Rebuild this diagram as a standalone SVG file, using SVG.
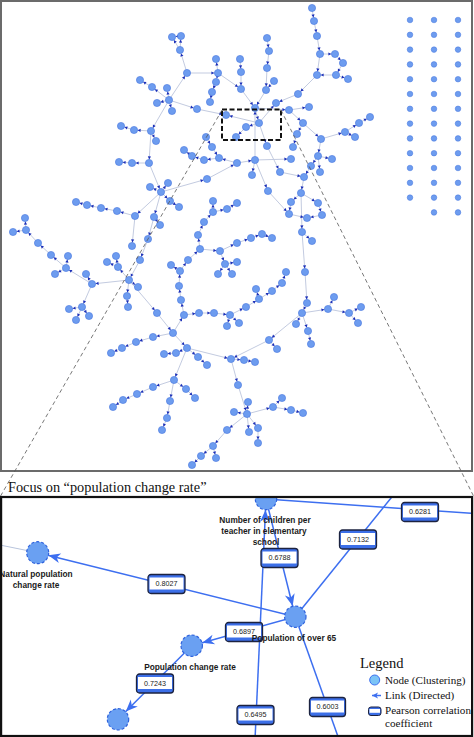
<svg xmlns="http://www.w3.org/2000/svg" width="474" height="737" viewBox="0 0 474 737">
<defs>
<style>
.e line{stroke:#c3cbe0;stroke-width:1;marker-end:url(#a)}
.n circle{fill:#6d9cef;stroke:#4676df;stroke-width:.6}
.gd circle{fill:#6d9cef;stroke:#4676df;stroke-width:.5}
.fe line{stroke:#3d6ff0;stroke-width:1.5;marker-end:url(#b)}
.fn{fill:#6aa0f2;stroke:#2f62dc;stroke-width:1.2;stroke-dasharray:3 2}
.lb{fill:#3c6fe8;stroke:#1c2340;stroke-width:1.3}
.lw{fill:#fff}
.lt{font-family:"Liberation Sans",Arial,sans-serif;font-size:7.2px;fill:#222;text-anchor:middle}
.nl{font-family:"Liberation Sans",Arial,sans-serif;font-size:8.3px;font-weight:bold;fill:#1a1a1a;text-anchor:middle}
.sf{font-family:"Liberation Serif","Times New Roman",serif;fill:#111}
.dl{stroke:#555;stroke-width:.8;stroke-dasharray:4 3;fill:none}
</style>
<marker id="a" markerUnits="userSpaceOnUse" viewBox="0 0 4 4" markerWidth="4" markerHeight="4" refX="6.6" refY="2" orient="auto" overflow="visible"><path d="M0,0.4 L3,2 L0,3.6 z" fill="#1b2fb8"/></marker>
<marker id="b" markerUnits="userSpaceOnUse" viewBox="0 0 24 10" markerWidth="24" markerHeight="10" refX="23" refY="5" orient="auto" overflow="visible"><path d="M0,0 L12,5 L0,10 L3.5,5 z" fill="#3d6ff0"/></marker>
<marker id="c" markerUnits="userSpaceOnUse" viewBox="0 0 6 6" markerWidth="6" markerHeight="6" refX="0" refY="3" orient="auto" overflow="visible"><path d="M6,0 L0,3 L6,6 L4.5,3 z" fill="#3d6ff0"/></marker>
<clipPath id="fc"><rect x="2" y="498" width="469" height="237"/></clipPath>
</defs>
<rect width="474" height="737" fill="#fff"/>
<rect x="1" y="1" width="471" height="470" fill="none" stroke="#6b6b6b" stroke-width="2"/>

<g id="connectors" class="e">
<line x1="180" y1="50" x2="172" y2="37"/><line x1="180" y1="50" x2="181" y2="36"/><line x1="181" y1="36" x2="172" y2="37"/>
<line x1="187" y1="73" x2="180" y2="50"/><line x1="187" y1="73" x2="218" y2="73"/><line x1="169" y1="100" x2="187" y2="73"/>
<line x1="218" y1="73" x2="216" y2="59"/><line x1="218" y1="73" x2="216" y2="82"/><line x1="216" y1="82" x2="212" y2="92"/><line x1="212" y1="92" x2="210" y2="102"/>
<line x1="218" y1="73" x2="241" y2="89"/><line x1="240" y1="59" x2="241" y2="72"/><line x1="241" y1="72" x2="241" y2="89"/><line x1="241" y1="89" x2="255" y2="108"/>
<line x1="152" y1="87" x2="140" y2="80"/><line x1="169" y1="100" x2="152" y2="87"/><line x1="169" y1="100" x2="167" y2="88"/><line x1="169" y1="100" x2="157" y2="103"/><line x1="169" y1="100" x2="172" y2="111"/><line x1="169" y1="100" x2="197" y2="109"/><line x1="197" y1="109" x2="226" y2="115"/>
<line x1="259" y1="123" x2="226" y2="115"/><line x1="259" y1="123" x2="246" y2="127"/><line x1="246" y1="127" x2="236" y2="137"/><line x1="255" y1="108" x2="259" y2="123"/><line x1="259" y1="123" x2="276" y2="103"/><line x1="259" y1="123" x2="267" y2="146"/><line x1="255" y1="160" x2="255" y2="108"/><line x1="255" y1="108" x2="289" y2="110"/>
<line x1="169" y1="100" x2="151" y2="131"/><line x1="151" y1="131" x2="134" y2="130"/><line x1="134" y1="130" x2="121" y2="126"/><line x1="151" y1="131" x2="156" y2="141"/><line x1="151" y1="131" x2="149" y2="163"/><line x1="149" y1="163" x2="132" y2="163"/><line x1="132" y1="163" x2="119" y2="162"/><line x1="149" y1="163" x2="161" y2="192"/>
<line x1="206" y1="137" x2="212" y2="147"/><line x1="212" y1="147" x2="219" y2="158"/><line x1="237" y1="163" x2="219" y2="158"/><line x1="219" y1="158" x2="204" y2="160"/><line x1="204" y1="160" x2="192" y2="156"/><line x1="192" y1="156" x2="184" y2="150"/>
<line x1="237" y1="163" x2="255" y2="160"/><line x1="207" y1="179" x2="237" y2="163"/><line x1="161" y1="192" x2="207" y2="179"/>
<line x1="161" y1="192" x2="150" y2="187"/><line x1="161" y1="192" x2="168" y2="183"/><line x1="161" y1="192" x2="170" y2="201"/><line x1="170" y1="201" x2="179" y2="207"/>
<line x1="161" y1="192" x2="135" y2="216"/><line x1="135" y1="216" x2="117" y2="211"/><line x1="117" y1="211" x2="101" y2="208"/><line x1="101" y1="208" x2="87" y2="205"/><line x1="87" y1="205" x2="76" y2="202"/>
<line x1="161" y1="192" x2="154" y2="217"/><line x1="154" y1="217" x2="160" y2="225"/><line x1="154" y1="217" x2="148" y2="239"/><line x1="135" y1="216" x2="132" y2="246"/><line x1="148" y1="239" x2="140" y2="260"/><line x1="140" y1="260" x2="129" y2="280"/>
<line x1="129" y1="280" x2="118" y2="267"/><line x1="118" y1="267" x2="116" y2="256"/><line x1="118" y1="267" x2="107" y2="262"/><line x1="129" y1="280" x2="138" y2="287"/><line x1="129" y1="280" x2="127" y2="296"/><line x1="127" y1="296" x2="128" y2="307"/>
<line x1="129" y1="280" x2="92" y2="284"/><line x1="92" y1="284" x2="86" y2="274"/><line x1="92" y1="284" x2="82" y2="307"/><line x1="82" y1="307" x2="69" y2="309"/><line x1="82" y1="307" x2="76" y2="320"/><line x1="82" y1="307" x2="89" y2="316"/>
<line x1="92" y1="284" x2="66" y2="268"/><line x1="66" y1="268" x2="68" y2="256"/><line x1="66" y1="268" x2="55" y2="274"/><line x1="66" y1="268" x2="51" y2="255"/><line x1="51" y1="255" x2="38" y2="243"/><line x1="38" y1="243" x2="26" y2="230"/><line x1="26" y1="230" x2="25" y2="218"/><line x1="26" y1="230" x2="13" y2="232"/>
<line x1="129" y1="280" x2="157" y2="313"/><line x1="157" y1="313" x2="173" y2="333"/><line x1="173" y1="333" x2="153" y2="337"/><line x1="153" y1="337" x2="136" y2="342"/><line x1="136" y1="342" x2="122" y2="348"/><line x1="122" y1="348" x2="111" y2="353"/>
<line x1="173" y1="333" x2="184" y2="315"/><line x1="184" y1="315" x2="181" y2="300"/><line x1="181" y1="300" x2="179" y2="286"/><line x1="179" y1="286" x2="180" y2="271"/><line x1="180" y1="271" x2="171" y2="265"/><line x1="180" y1="271" x2="188" y2="260"/><line x1="188" y1="260" x2="200" y2="249"/>
<line x1="200" y1="249" x2="198" y2="235"/><line x1="198" y1="235" x2="204" y2="222"/><line x1="204" y1="222" x2="213" y2="212"/><line x1="213" y1="212" x2="213" y2="201"/><line x1="213" y1="212" x2="227" y2="209"/><line x1="227" y1="209" x2="237" y2="203"/>
<line x1="200" y1="249" x2="220" y2="251"/><line x1="220" y1="251" x2="225" y2="264"/><line x1="225" y1="264" x2="237" y2="262"/><line x1="225" y1="264" x2="218" y2="274"/><line x1="225" y1="264" x2="232" y2="274"/>
<line x1="220" y1="251" x2="237" y2="243"/><line x1="237" y1="243" x2="251" y2="238"/><line x1="251" y1="238" x2="262" y2="234"/><line x1="262" y1="234" x2="272" y2="238"/>
<line x1="184" y1="315" x2="199" y2="313"/><line x1="199" y1="313" x2="214" y2="313"/><line x1="214" y1="313" x2="230" y2="315"/><line x1="230" y1="315" x2="227" y2="326"/><line x1="230" y1="315" x2="239" y2="323"/><line x1="230" y1="315" x2="246" y2="307"/><line x1="246" y1="307" x2="259" y2="299"/><line x1="259" y1="299" x2="256" y2="289"/><line x1="259" y1="299" x2="272" y2="291"/><line x1="272" y1="291" x2="282" y2="283"/><line x1="282" y1="283" x2="286" y2="272"/>
<line x1="173" y1="333" x2="187" y2="348"/><line x1="187" y1="348" x2="176" y2="353"/><line x1="176" y1="353" x2="164" y2="354"/><line x1="187" y1="348" x2="198" y2="357"/><line x1="198" y1="357" x2="207" y2="365"/>
<line x1="187" y1="348" x2="231" y2="359"/><line x1="231" y1="359" x2="244" y2="360"/><line x1="244" y1="360" x2="255" y2="362"/>
<line x1="187" y1="348" x2="174" y2="380"/><line x1="174" y1="380" x2="153" y2="387"/><line x1="153" y1="387" x2="137" y2="394"/><line x1="137" y1="394" x2="123" y2="400"/><line x1="123" y1="400" x2="113" y2="407"/><line x1="174" y1="380" x2="186" y2="389"/><line x1="186" y1="389" x2="195" y2="398"/><line x1="174" y1="380" x2="170" y2="401"/><line x1="170" y1="401" x2="167" y2="418"/><line x1="167" y1="418" x2="162" y2="430"/>
<line x1="231" y1="359" x2="238" y2="385"/><line x1="238" y1="385" x2="247" y2="414"/><line x1="247" y1="414" x2="248" y2="402"/><line x1="247" y1="414" x2="234" y2="412"/><line x1="247" y1="414" x2="273" y2="407"/><line x1="273" y1="407" x2="282" y2="398"/><line x1="273" y1="407" x2="291" y2="410"/><line x1="291" y1="410" x2="303" y2="413"/>
<line x1="247" y1="414" x2="249" y2="432"/><line x1="247" y1="414" x2="258" y2="428"/><line x1="258" y1="428" x2="258" y2="443"/><line x1="247" y1="414" x2="227" y2="430"/><line x1="227" y1="430" x2="213" y2="446"/><line x1="213" y1="446" x2="201" y2="456"/><line x1="201" y1="456" x2="192" y2="465"/><line x1="213" y1="446" x2="216" y2="458"/>
<line x1="269" y1="340" x2="231" y2="359"/><line x1="302" y1="313" x2="269" y2="340"/><line x1="269" y1="340" x2="277" y2="349"/>
<line x1="307" y1="303" x2="302" y2="313"/><line x1="302" y1="313" x2="296" y2="324"/><line x1="302" y1="313" x2="308" y2="331"/><line x1="308" y1="331" x2="311" y2="344"/><line x1="302" y1="313" x2="328" y2="309"/><line x1="328" y1="309" x2="334" y2="297"/><line x1="328" y1="309" x2="349" y2="313"/><line x1="349" y1="313" x2="361" y2="307"/><line x1="349" y1="313" x2="358" y2="323"/>
<line x1="305" y1="272" x2="307" y2="303"/><line x1="302" y1="232" x2="305" y2="272"/><line x1="302" y1="232" x2="312" y2="241"/><line x1="301" y1="193" x2="302" y2="232"/>
<line x1="301" y1="193" x2="291" y2="202"/><line x1="291" y1="202" x2="289" y2="214"/><line x1="301" y1="193" x2="318" y2="203"/><line x1="318" y1="203" x2="322" y2="215"/><line x1="289" y1="214" x2="307" y2="218"/><line x1="322" y1="215" x2="307" y2="218"/><line x1="268" y1="191" x2="289" y2="214"/>
<line x1="255" y1="160" x2="268" y2="191"/><line x1="255" y1="160" x2="252" y2="175"/><line x1="255" y1="160" x2="291" y2="159"/>
<line x1="304" y1="177" x2="301" y2="193"/><line x1="280" y1="172" x2="304" y2="177"/><line x1="267" y1="146" x2="280" y2="172"/><line x1="311" y1="166" x2="304" y2="177"/><line x1="318" y1="156" x2="311" y2="166"/><line x1="318" y1="156" x2="320" y2="172"/><line x1="318" y1="156" x2="332" y2="159"/>
<line x1="321" y1="139" x2="318" y2="156"/><line x1="303" y1="123" x2="321" y2="139"/><line x1="321" y1="139" x2="345" y2="132"/><line x1="345" y1="132" x2="359" y2="123"/><line x1="359" y1="123" x2="370" y2="117"/><line x1="345" y1="132" x2="355" y2="137"/>
<line x1="289" y1="110" x2="303" y2="123"/><line x1="303" y1="123" x2="297" y2="134"/><line x1="297" y1="134" x2="293" y2="147"/><line x1="289" y1="110" x2="309" y2="107"/>
<line x1="298" y1="94" x2="276" y2="103"/><line x1="317" y1="75" x2="298" y2="94"/><line x1="320" y1="54" x2="317" y2="75"/><line x1="317" y1="36" x2="320" y2="54"/><line x1="314" y1="21" x2="317" y2="36"/><line x1="312" y1="8" x2="314" y2="21"/>
<line x1="320" y1="54" x2="335" y2="54"/><line x1="335" y1="54" x2="343" y2="63"/><line x1="343" y1="63" x2="336" y2="75"/><line x1="336" y1="75" x2="317" y2="75"/><line x1="336" y1="75" x2="348" y2="79"/>
<line x1="267" y1="38" x2="269" y2="51"/><line x1="269" y1="51" x2="267" y2="68"/><line x1="267" y1="68" x2="266" y2="90"/><line x1="274" y1="81" x2="266" y2="90"/><line x1="266" y1="90" x2="255" y2="108"/>
</g>

<g class="n">
<g id="t1"><circle cx="172" cy="37" r="3.6"/></g><g id="t2"><circle cx="181" cy="36" r="3.6"/></g><g id="t3"><circle cx="180" cy="50" r="3.6"/></g><g id="t4"><circle cx="187" cy="73" r="3.6"/></g><g id="t5"><circle cx="218" cy="73" r="3.6"/></g><g id="t6"><circle cx="216" cy="59" r="3.6"/></g><g id="t7"><circle cx="216" cy="82" r="3.6"/></g><g id="t8"><circle cx="212" cy="92" r="3.6"/></g><g id="t9"><circle cx="210" cy="102" r="3.6"/></g><g id="t10"><circle cx="240" cy="59" r="3.6"/></g>
<g id="t11"><circle cx="241" cy="72" r="3.6"/></g><g id="t12"><circle cx="241" cy="89" r="3.6"/></g><g id="t13"><circle cx="255" cy="108" r="3.6"/></g><g id="t14"><circle cx="140" cy="80" r="3.6"/></g><g id="t15"><circle cx="152" cy="87" r="3.6"/></g><g id="t16"><circle cx="167" cy="88" r="3.6"/></g><g id="t17"><circle cx="169" cy="100" r="3.6"/></g><g id="t18"><circle cx="157" cy="103" r="3.6"/></g><g id="t19"><circle cx="172" cy="111" r="3.6"/></g><g id="t20"><circle cx="197" cy="109" r="3.6"/></g>
<g id="t21"><circle cx="226" cy="115" r="3.6"/></g><g id="t22"><circle cx="259" cy="123" r="3.6"/></g><g id="t23"><circle cx="246" cy="127" r="3.6"/></g><g id="t24"><circle cx="236" cy="137" r="3.6"/></g><g id="t25"><circle cx="121" cy="126" r="3.6"/></g><g id="t26"><circle cx="134" cy="130" r="3.6"/></g><g id="t27"><circle cx="151" cy="131" r="3.6"/></g><g id="t28"><circle cx="156" cy="141" r="3.6"/></g><g id="t29"><circle cx="119" cy="162" r="3.6"/></g><g id="t30"><circle cx="132" cy="163" r="3.6"/></g>
<g id="t31"><circle cx="149" cy="163" r="3.6"/></g><g id="t32"><circle cx="206" cy="137" r="3.6"/></g><g id="t33"><circle cx="212" cy="147" r="3.6"/></g><g id="t34"><circle cx="184" cy="150" r="3.6"/></g><g id="t35"><circle cx="192" cy="156" r="3.6"/></g><g id="t36"><circle cx="204" cy="160" r="3.6"/></g><g id="t37"><circle cx="219" cy="158" r="3.6"/></g><g id="t38"><circle cx="237" cy="163" r="3.6"/></g><g id="t39"><circle cx="207" cy="179" r="3.6"/></g><g id="t40"><circle cx="161" cy="192" r="3.6"/></g>
<g id="t41"><circle cx="150" cy="187" r="3.6"/></g><g id="t42"><circle cx="168" cy="183" r="3.6"/></g><g id="t43"><circle cx="170" cy="201" r="3.6"/></g><g id="t44"><circle cx="179" cy="207" r="3.6"/></g><g id="t45"><circle cx="135" cy="216" r="3.6"/></g><g id="t46"><circle cx="117" cy="211" r="3.6"/></g><g id="t47"><circle cx="101" cy="208" r="3.6"/></g><g id="t48"><circle cx="87" cy="205" r="3.6"/></g><g id="t49"><circle cx="76" cy="202" r="3.6"/></g><g id="t50"><circle cx="154" cy="217" r="3.6"/></g>
<g id="t51"><circle cx="160" cy="225" r="3.6"/></g><g id="t52"><circle cx="148" cy="239" r="3.6"/></g><g id="t53"><circle cx="132" cy="246" r="3.6"/></g><g id="t54"><circle cx="140" cy="260" r="3.6"/></g><g id="t55"><circle cx="129" cy="280" r="3.6"/></g><g id="t56"><circle cx="116" cy="256" r="3.6"/></g><g id="t57"><circle cx="107" cy="262" r="3.6"/></g><g id="t58"><circle cx="118" cy="267" r="3.6"/></g><g id="t59"><circle cx="138" cy="287" r="3.6"/></g><g id="t60"><circle cx="127" cy="296" r="3.6"/></g>
<g id="t61"><circle cx="128" cy="307" r="3.6"/></g><g id="t62"><circle cx="92" cy="284" r="3.6"/></g><g id="t63"><circle cx="86" cy="274" r="3.6"/></g><g id="t64"><circle cx="82" cy="307" r="3.6"/></g><g id="t65"><circle cx="69" cy="309" r="3.6"/></g><g id="t66"><circle cx="76" cy="320" r="3.6"/></g><g id="t67"><circle cx="89" cy="316" r="3.6"/></g><g id="t68"><circle cx="66" cy="268" r="3.6"/></g><g id="t69"><circle cx="68" cy="256" r="3.6"/></g><g id="t70"><circle cx="55" cy="274" r="3.6"/></g>
<g id="t71"><circle cx="51" cy="255" r="3.6"/></g><g id="t72"><circle cx="38" cy="243" r="3.6"/></g><g id="t73"><circle cx="26" cy="230" r="3.6"/></g><g id="t74"><circle cx="25" cy="218" r="3.6"/></g><g id="t75"><circle cx="13" cy="232" r="3.6"/></g><g id="t76"><circle cx="157" cy="313" r="3.6"/></g><g id="t77"><circle cx="173" cy="333" r="3.6"/></g><g id="t78"><circle cx="153" cy="337" r="3.6"/></g><g id="t79"><circle cx="136" cy="342" r="3.6"/></g><g id="t80"><circle cx="122" cy="348" r="3.6"/></g>
<g id="t81"><circle cx="111" cy="353" r="3.6"/></g><g id="t82"><circle cx="184" cy="315" r="3.6"/></g><g id="t83"><circle cx="181" cy="300" r="3.6"/></g><g id="t84"><circle cx="179" cy="286" r="3.6"/></g><g id="t85"><circle cx="180" cy="271" r="3.6"/></g><g id="t86"><circle cx="171" cy="265" r="3.6"/></g><g id="t87"><circle cx="188" cy="260" r="3.6"/></g><g id="t88"><circle cx="200" cy="249" r="3.6"/></g><g id="t89"><circle cx="198" cy="235" r="3.6"/></g><g id="t90"><circle cx="204" cy="222" r="3.6"/></g>
<g id="t91"><circle cx="213" cy="212" r="3.6"/></g><g id="t92"><circle cx="213" cy="201" r="3.6"/></g><g id="t93"><circle cx="227" cy="209" r="3.6"/></g><g id="t94"><circle cx="237" cy="203" r="3.6"/></g><g id="t95"><circle cx="220" cy="251" r="3.6"/></g><g id="t96"><circle cx="225" cy="264" r="3.6"/></g><g id="t97"><circle cx="237" cy="262" r="3.6"/></g><g id="t98"><circle cx="218" cy="274" r="3.6"/></g><g id="t99"><circle cx="232" cy="274" r="3.6"/></g><g id="t100"><circle cx="237" cy="243" r="3.6"/></g>
<g id="t101"><circle cx="251" cy="238" r="3.6"/></g><g id="t102"><circle cx="262" cy="234" r="3.6"/></g><g id="t103"><circle cx="272" cy="238" r="3.6"/></g><g id="t104"><circle cx="199" cy="313" r="3.6"/></g><g id="t105"><circle cx="214" cy="313" r="3.6"/></g><g id="t106"><circle cx="230" cy="315" r="3.6"/></g><g id="t107"><circle cx="227" cy="326" r="3.6"/></g><g id="t108"><circle cx="239" cy="323" r="3.6"/></g><g id="t109"><circle cx="187" cy="348" r="3.6"/></g><g id="t110"><circle cx="176" cy="353" r="3.6"/></g>
<g id="t111"><circle cx="164" cy="354" r="3.6"/></g><g id="t112"><circle cx="198" cy="357" r="3.6"/></g><g id="t113"><circle cx="207" cy="365" r="3.6"/></g><g id="t114"><circle cx="231" cy="359" r="3.6"/></g><g id="t115"><circle cx="244" cy="360" r="3.6"/></g><g id="t116"><circle cx="255" cy="362" r="3.6"/></g><g id="t117"><circle cx="174" cy="380" r="3.6"/></g><g id="t118"><circle cx="153" cy="387" r="3.6"/></g><g id="t119"><circle cx="137" cy="394" r="3.6"/></g><g id="t120"><circle cx="123" cy="400" r="3.6"/></g>
<g id="t121"><circle cx="113" cy="407" r="3.6"/></g><g id="t122"><circle cx="186" cy="389" r="3.6"/></g><g id="t123"><circle cx="195" cy="398" r="3.6"/></g><g id="t124"><circle cx="170" cy="401" r="3.6"/></g><g id="t125"><circle cx="167" cy="418" r="3.6"/></g><g id="t126"><circle cx="162" cy="430" r="3.6"/></g><g id="t127"><circle cx="238" cy="385" r="3.6"/></g><g id="t128"><circle cx="247" cy="414" r="3.6"/></g><g id="t129"><circle cx="248" cy="402" r="3.6"/></g><g id="t130"><circle cx="234" cy="412" r="3.6"/></g>
<g id="t131"><circle cx="273" cy="407" r="3.6"/></g><g id="t132"><circle cx="282" cy="398" r="3.6"/></g><g id="t133"><circle cx="291" cy="410" r="3.6"/></g><g id="t134"><circle cx="303" cy="413" r="3.6"/></g><g id="t135"><circle cx="249" cy="432" r="3.6"/></g><g id="t136"><circle cx="258" cy="428" r="3.6"/></g><g id="t137"><circle cx="258" cy="443" r="3.6"/></g><g id="t138"><circle cx="227" cy="430" r="3.6"/></g><g id="t139"><circle cx="213" cy="446" r="3.6"/></g><g id="t140"><circle cx="201" cy="456" r="3.6"/></g>
<g id="t141"><circle cx="192" cy="465" r="3.6"/></g><g id="t142"><circle cx="216" cy="458" r="3.6"/></g><g id="t143"><circle cx="269" cy="340" r="3.6"/></g><g id="t144"><circle cx="277" cy="349" r="3.6"/></g><g id="t145"><circle cx="302" cy="313" r="3.6"/></g><g id="t146"><circle cx="307" cy="303" r="3.6"/></g><g id="t147"><circle cx="296" cy="324" r="3.6"/></g><g id="t148"><circle cx="308" cy="331" r="3.6"/></g><g id="t149"><circle cx="311" cy="344" r="3.6"/></g><g id="t150"><circle cx="328" cy="309" r="3.6"/></g>
<g id="t151"><circle cx="334" cy="297" r="3.6"/></g><g id="t152"><circle cx="349" cy="313" r="3.6"/></g><g id="t153"><circle cx="361" cy="307" r="3.6"/></g><g id="t154"><circle cx="358" cy="323" r="3.6"/></g><g id="t155"><circle cx="305" cy="272" r="3.6"/></g><g id="t156"><circle cx="302" cy="232" r="3.6"/></g><g id="t157"><circle cx="312" cy="241" r="3.6"/></g><g id="t158"><circle cx="289" cy="214" r="3.6"/></g><g id="t159"><circle cx="307" cy="218" r="3.6"/></g><g id="t160"><circle cx="322" cy="215" r="3.6"/></g>
<g id="t161"><circle cx="318" cy="203" r="3.6"/></g><g id="t162"><circle cx="291" cy="202" r="3.6"/></g><g id="t163"><circle cx="301" cy="193" r="3.6"/></g><g id="t164"><circle cx="304" cy="177" r="3.6"/></g><g id="t165"><circle cx="280" cy="172" r="3.6"/></g><g id="t166"><circle cx="267" cy="146" r="3.6"/></g><g id="t167"><circle cx="311" cy="166" r="3.6"/></g><g id="t168"><circle cx="318" cy="156" r="3.6"/></g><g id="t169"><circle cx="320" cy="172" r="3.6"/></g><g id="t170"><circle cx="332" cy="159" r="3.6"/></g>
<g id="t171"><circle cx="321" cy="139" r="3.6"/></g><g id="t172"><circle cx="345" cy="132" r="3.6"/></g><g id="t173"><circle cx="359" cy="123" r="3.6"/></g><g id="t174"><circle cx="370" cy="117" r="3.6"/></g><g id="t175"><circle cx="355" cy="137" r="3.6"/></g><g id="t176"><circle cx="303" cy="123" r="3.6"/></g><g id="t177"><circle cx="297" cy="134" r="3.6"/></g><g id="t178"><circle cx="293" cy="147" r="3.6"/></g><g id="t179"><circle cx="289" cy="110" r="3.6"/></g><g id="t180"><circle cx="309" cy="107" r="3.6"/></g>
<g id="t181"><circle cx="276" cy="103" r="3.6"/></g><g id="t182"><circle cx="298" cy="94" r="3.6"/></g><g id="t183"><circle cx="317" cy="75" r="3.6"/></g><g id="t184"><circle cx="320" cy="54" r="3.6"/></g><g id="t185"><circle cx="317" cy="36" r="3.6"/></g><g id="t186"><circle cx="314" cy="21" r="3.6"/></g><g id="t187"><circle cx="312" cy="8" r="3.6"/></g><g id="t188"><circle cx="335" cy="54" r="3.6"/></g><g id="t189"><circle cx="343" cy="63" r="3.6"/></g><g id="t190"><circle cx="336" cy="75" r="3.6"/></g>
<g id="t191"><circle cx="348" cy="79" r="3.6"/></g><g id="t192"><circle cx="267" cy="38" r="3.6"/></g><g id="t193"><circle cx="269" cy="51" r="3.6"/></g><g id="t194"><circle cx="267" cy="68" r="3.6"/></g><g id="t195"><circle cx="274" cy="81" r="3.6"/></g><g id="t196"><circle cx="266" cy="90" r="3.6"/></g><g id="t197"><circle cx="255" cy="160" r="3.6"/></g><g id="t198"><circle cx="252" cy="175" r="3.6"/></g><g id="t199"><circle cx="291" cy="159" r="3.6"/></g><g id="t200"><circle cx="268" cy="191" r="3.6"/></g>
<g id="t201"><circle cx="286" cy="272" r="3.6"/></g><g id="t202"><circle cx="282" cy="283" r="3.6"/></g><g id="t203"><circle cx="272" cy="291" r="3.6"/></g><g id="t204"><circle cx="256" cy="289" r="3.6"/></g><g id="t205"><circle cx="259" cy="299" r="3.6"/></g><g id="t206"><circle cx="246" cy="307" r="3.6"/></g>
</g>

<g class="gd">
<g id="g1"><circle cx="410" cy="20" r="2.8"/></g><g id="g2"><circle cx="410" cy="34.8" r="2.8"/></g><g id="g3"><circle cx="410" cy="49.6" r="2.8"/></g><g id="g4"><circle cx="410" cy="64.4" r="2.8"/></g><g id="g5"><circle cx="410" cy="79.2" r="2.8"/></g><g id="g6"><circle cx="410" cy="94" r="2.8"/></g><g id="g7"><circle cx="410" cy="108.8" r="2.8"/></g><g id="g8"><circle cx="410" cy="123.6" r="2.8"/></g><g id="g9"><circle cx="410" cy="138.4" r="2.8"/></g><g id="g10"><circle cx="410" cy="153.2" r="2.8"/></g><g id="g11"><circle cx="410" cy="168" r="2.8"/></g><g id="g12"><circle cx="410" cy="182.8" r="2.8"/></g><g id="g13"><circle cx="410" cy="197.6" r="2.8"/></g>
<g id="g14"><circle cx="434" cy="20" r="2.8"/></g><g id="g15"><circle cx="434" cy="34.8" r="2.8"/></g><g id="g16"><circle cx="434" cy="49.6" r="2.8"/></g><g id="g17"><circle cx="434" cy="64.4" r="2.8"/></g><g id="g18"><circle cx="434" cy="79.2" r="2.8"/></g><g id="g19"><circle cx="434" cy="94" r="2.8"/></g><g id="g20"><circle cx="434" cy="108.8" r="2.8"/></g><g id="g21"><circle cx="434" cy="123.6" r="2.8"/></g><g id="g22"><circle cx="434" cy="138.4" r="2.8"/></g><g id="g23"><circle cx="434" cy="153.2" r="2.8"/></g><g id="g24"><circle cx="434" cy="168" r="2.8"/></g><g id="g25"><circle cx="434" cy="182.8" r="2.8"/></g><g id="g26"><circle cx="434" cy="197.6" r="2.8"/></g><g id="g27"><circle cx="434" cy="212.4" r="2.8"/></g>
<g id="g28"><circle cx="458" cy="20" r="2.8"/></g><g id="g29"><circle cx="458" cy="34.8" r="2.8"/></g><g id="g30"><circle cx="458" cy="49.6" r="2.8"/></g><g id="g31"><circle cx="458" cy="64.4" r="2.8"/></g><g id="g32"><circle cx="458" cy="79.2" r="2.8"/></g><g id="g33"><circle cx="458" cy="94" r="2.8"/></g><g id="g34"><circle cx="458" cy="108.8" r="2.8"/></g><g id="g35"><circle cx="458" cy="123.6" r="2.8"/></g><g id="g36"><circle cx="458" cy="138.4" r="2.8"/></g><g id="g37"><circle cx="458" cy="153.2" r="2.8"/></g><g id="g38"><circle cx="458" cy="168" r="2.8"/></g><g id="g39"><circle cx="458" cy="182.8" r="2.8"/></g><g id="g40"><circle cx="458" cy="197.6" r="2.8"/></g><g id="g41"><circle cx="458" cy="212.4" r="2.8"/></g>
</g>

<g id="zoom-box">
<rect x="222" y="109.5" width="59" height="30.5" fill="none" stroke="#111" stroke-width="2" stroke-dasharray="5 2.5"/>
<line class="dl" x1="222" y1="110" x2="0" y2="497"/>
<line class="dl" x1="281" y1="110" x2="474" y2="497"/>
</g>

<text id="caption" class="sf" x="8" y="492" font-size="14.3">Focus on “population change rate”</text>

<g id="focus" clip-path="url(#fc)">
<line x1="37.7" y1="552.7" x2="-5" y2="544" stroke="#b8c4dc" stroke-width="1"/>
<g id="focus-connectors" class="fe">
<line x1="295.3" y1="616.7" x2="37.7" y2="552.7"/>
<line x1="295.3" y1="616.7" x2="191.7" y2="645.7"/>
<line x1="191.7" y1="645.7" x2="118" y2="719.3"/>
<line x1="266" y1="499" x2="295.3" y2="616.7"/>
<line x1="255" y1="740" x2="266" y2="499"/>
<line x1="295.3" y1="616.7" x2="412" y2="472" style="marker-end:none"/>
<line x1="266" y1="499" x2="480" y2="514" style="marker-end:none"/>
<line x1="295.3" y1="616.7" x2="341" y2="745" style="marker-end:none"/>
</g>
<g id="lbl6281" transform="translate(401.5,502.5)"><rect class="lb" width="37" height="19" rx="3"/><rect class="lw" x="1.5" y="3" width="34" height="12"/><text class="lt" x="18.5" y="11.7">0.6281</text></g>
<g id="lbl7132" transform="translate(339.5,530)"><rect class="lb" width="37" height="19" rx="3"/><rect class="lw" x="1.5" y="3" width="34" height="12"/><text class="lt" x="18.5" y="11.7">0.7132</text></g>
<g id="lbl6788" transform="translate(261,548.5)"><rect class="lb" width="37" height="19" rx="3"/><rect class="lw" x="1.5" y="3" width="34" height="12"/><text class="lt" x="18.5" y="11.7">0.6788</text></g>
<g id="lbl8027" transform="translate(148,574.5)"><rect class="lb" width="37" height="19" rx="3"/><rect class="lw" x="1.5" y="3" width="34" height="12"/><text class="lt" x="18.5" y="11.7">0.8027</text></g>
<g id="lbl6897" transform="translate(225.5,622.5)"><rect class="lb" width="37" height="19" rx="3"/><rect class="lw" x="1.5" y="3" width="34" height="12"/><text class="lt" x="18.5" y="11.7">0.6897</text></g>
<g id="lbl7243" transform="translate(136.5,674)"><rect class="lb" width="37" height="19" rx="3"/><rect class="lw" x="1.5" y="3" width="34" height="12"/><text class="lt" x="18.5" y="11.7">0.7243</text></g>
<g id="lbl6495" transform="translate(237,705.5)"><rect class="lb" width="37" height="19" rx="3"/><rect class="lw" x="1.5" y="3" width="34" height="12"/><text class="lt" x="18.5" y="11.7">0.6495</text></g>
<g id="lbl6003" transform="translate(309.5,697.5)"><rect class="lb" width="36" height="19" rx="3"/><rect class="lw" x="1.5" y="3" width="33" height="12"/><text class="lt" x="18" y="11.7">0.6003</text></g>
<g id="f-children"><circle class="fn" cx="266" cy="499" r="10.7"/><text class="nl" x="265" y="523">Number of children per</text><text class="nl" x="264" y="534">teacher in elementary</text><text class="nl" x="266" y="545">school</text></g>
<g id="f-natural"><circle class="fn" cx="37.7" cy="552.7" r="11"/><text class="nl" x="36" y="577">Natural population</text><text class="nl" x="36" y="588">change rate</text></g>
<g id="f-over65"><circle class="fn" cx="295.3" cy="616.7" r="10.7"/><text class="nl" x="294" y="640.5">Population of over 65</text></g>
<g id="f-change"><circle class="fn" cx="191.7" cy="645.7" r="10.7"/><text class="nl" x="190" y="670">Population change rate</text></g>
<g id="f-bottom"><circle class="fn" cx="118" cy="719.3" r="10.7"/></g>
</g>

<g id="legend">
<text class="sf" x="360" y="668" font-size="14.5">Legend</text>
<circle cx="374.7" cy="680" r="5" fill="#7cc4f6" stroke="#3d6ff0" stroke-width="1"/>
<text class="sf" x="385" y="683.5" font-size="11.1">Node (Clustering)</text>
<line x1="372" y1="695.5" x2="381" y2="695.5" stroke="#3d6ff0" stroke-width="1.5" marker-start="url(#c)"/>
<text class="sf" x="385" y="699.3" font-size="11.1">Link (Directed)</text>
<rect x="368.5" y="707" width="12.5" height="8.5" rx="2.5" fill="#3c6fe8" stroke="#1c2340" stroke-width="1"/>
<rect x="369.5" y="709" width="10.5" height="3.8" fill="#fff"/>
<text class="sf" x="385" y="714.3" font-size="11.1">Pearson correlation</text>
<text class="sf" x="385" y="726.7" font-size="11.1">coefficient</text>
</g>

<rect x="1.1" y="497" width="471" height="239" fill="none" stroke="#111" stroke-width="2.2"/>
</svg>
